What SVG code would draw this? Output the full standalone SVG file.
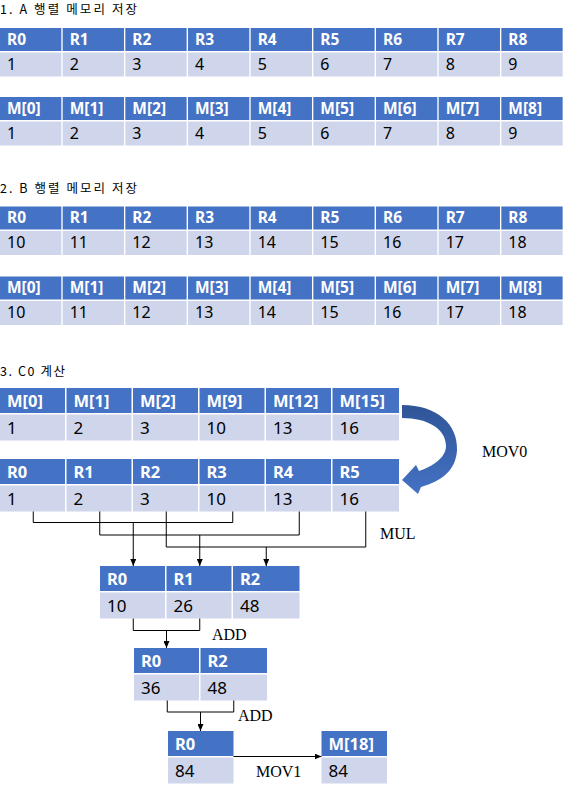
<svg xmlns="http://www.w3.org/2000/svg" width="564" height="796" viewBox="0 0 564 796">
<style>
.h{fill:#4472C4}
.d{fill:#CFD5EA}
.ht{fill:#fff;font-family:"Noto Sans","Liberation Sans",sans-serif;font-weight:bold;font-size:15.5px}
.dt{fill:#000;font-family:"Noto Sans","Liberation Sans",sans-serif;font-size:16px}
.ht3{fill:#fff;font-family:"Noto Sans","Liberation Sans",sans-serif;font-weight:bold;font-size:16.5px}
.dt3{fill:#000;font-family:"Noto Sans","Liberation Sans",sans-serif;font-size:17px}
.hd{fill:#000;font-family:"Noto Sans CJK KR","Noto Sans",sans-serif;font-size:12.5px}
.op{fill:#000;font-family:"Liberation Serif",serif;font-size:16px}
.ln{fill:none;stroke:#000;stroke-width:1}
</style>
<defs>
<marker id="ah" markerUnits="userSpaceOnUse" markerWidth="7" markerHeight="6" refX="7" refY="3" orient="auto">
<path d="M0,0 L7,3 L0,6 z" fill="#000"/>
</marker>
<linearGradient id="cg" x1="0" y1="0" x2="0" y2="1">
<stop offset="0" stop-color="#2F5597"/>
<stop offset="1" stop-color="#4472C4"/>
</linearGradient>
</defs>
<rect width="564" height="796" fill="#fff"/>

<g id="headings">
<text class="hd" x="0" y="14" textLength="137" lengthAdjust="spacing">1. A 행렬 메모리 저장</text>
<text class="hd" x="0" y="193" textLength="137" lengthAdjust="spacing">2. B 행렬 메모리 저장</text>
<text class="hd" x="0" y="376" textLength="65" lengthAdjust="spacing">3. C0 계산</text>
</g>

<g id="tableA-R">
<rect class="h" x="0" y="28" width="61.3" height="23"/><rect class="h" x="62.67" y="28" width="61.3" height="23"/><rect class="h" x="125.33" y="28" width="61.3" height="23"/><rect class="h" x="188" y="28" width="61.3" height="23"/><rect class="h" x="250.67" y="28" width="61.3" height="23"/><rect class="h" x="313.33" y="28" width="61.3" height="23"/><rect class="h" x="376" y="28" width="61.3" height="23"/><rect class="h" x="438.67" y="28" width="61.3" height="23"/><rect class="h" x="501.33" y="28" width="61.3" height="23"/>
<rect class="d" x="0" y="52.5" width="61.3" height="24"/><rect class="d" x="62.67" y="52.5" width="61.3" height="24"/><rect class="d" x="125.33" y="52.5" width="61.3" height="24"/><rect class="d" x="188" y="52.5" width="61.3" height="24"/><rect class="d" x="250.67" y="52.5" width="61.3" height="24"/><rect class="d" x="313.33" y="52.5" width="61.3" height="24"/><rect class="d" x="376" y="52.5" width="61.3" height="24"/><rect class="d" x="438.67" y="52.5" width="61.3" height="24"/><rect class="d" x="501.33" y="52.5" width="61.3" height="24"/>
<text class="ht" x="7" y="44.5">R0</text><text class="ht" x="69.67" y="44.5">R1</text><text class="ht" x="132.33" y="44.5">R2</text><text class="ht" x="195" y="44.5">R3</text><text class="ht" x="257.67" y="44.5">R4</text><text class="ht" x="320.33" y="44.5">R5</text><text class="ht" x="383" y="44.5">R6</text><text class="ht" x="445.67" y="44.5">R7</text><text class="ht" x="508.33" y="44.5">R8</text>
<text class="dt" x="7" y="69.5">1</text><text class="dt" x="69.67" y="69.5">2</text><text class="dt" x="132.33" y="69.5">3</text><text class="dt" x="195" y="69.5">4</text><text class="dt" x="257.67" y="69.5">5</text><text class="dt" x="320.33" y="69.5">6</text><text class="dt" x="383" y="69.5">7</text><text class="dt" x="445.67" y="69.5">8</text><text class="dt" x="508.33" y="69.5">9</text>
</g>

<g id="tableA-M">
<rect class="h" x="0" y="97" width="61.3" height="23"/><rect class="h" x="62.67" y="97" width="61.3" height="23"/><rect class="h" x="125.33" y="97" width="61.3" height="23"/><rect class="h" x="188" y="97" width="61.3" height="23"/><rect class="h" x="250.67" y="97" width="61.3" height="23"/><rect class="h" x="313.33" y="97" width="61.3" height="23"/><rect class="h" x="376" y="97" width="61.3" height="23"/><rect class="h" x="438.67" y="97" width="61.3" height="23"/><rect class="h" x="501.33" y="97" width="61.3" height="23"/>
<rect class="d" x="0" y="121.5" width="61.3" height="24"/><rect class="d" x="62.67" y="121.5" width="61.3" height="24"/><rect class="d" x="125.33" y="121.5" width="61.3" height="24"/><rect class="d" x="188" y="121.5" width="61.3" height="24"/><rect class="d" x="250.67" y="121.5" width="61.3" height="24"/><rect class="d" x="313.33" y="121.5" width="61.3" height="24"/><rect class="d" x="376" y="121.5" width="61.3" height="24"/><rect class="d" x="438.67" y="121.5" width="61.3" height="24"/><rect class="d" x="501.33" y="121.5" width="61.3" height="24"/>
<text class="ht" x="7" y="113.5">M[0]</text><text class="ht" x="69.67" y="113.5">M[1]</text><text class="ht" x="132.33" y="113.5">M[2]</text><text class="ht" x="195" y="113.5">M[3]</text><text class="ht" x="257.67" y="113.5">M[4]</text><text class="ht" x="320.33" y="113.5">M[5]</text><text class="ht" x="383" y="113.5">M[6]</text><text class="ht" x="445.67" y="113.5">M[7]</text><text class="ht" x="508.33" y="113.5">M[8]</text>
<text class="dt" x="7" y="138.5">1</text><text class="dt" x="69.67" y="138.5">2</text><text class="dt" x="132.33" y="138.5">3</text><text class="dt" x="195" y="138.5">4</text><text class="dt" x="257.67" y="138.5">5</text><text class="dt" x="320.33" y="138.5">6</text><text class="dt" x="383" y="138.5">7</text><text class="dt" x="445.67" y="138.5">8</text><text class="dt" x="508.33" y="138.5">9</text>
</g>

<g id="tableB-R">
<rect class="h" x="0" y="206.5" width="61.3" height="23"/><rect class="h" x="62.67" y="206.5" width="61.3" height="23"/><rect class="h" x="125.33" y="206.5" width="61.3" height="23"/><rect class="h" x="188" y="206.5" width="61.3" height="23"/><rect class="h" x="250.67" y="206.5" width="61.3" height="23"/><rect class="h" x="313.33" y="206.5" width="61.3" height="23"/><rect class="h" x="376" y="206.5" width="61.3" height="23"/><rect class="h" x="438.67" y="206.5" width="61.3" height="23"/><rect class="h" x="501.33" y="206.5" width="61.3" height="23"/>
<rect class="d" x="0" y="231" width="61.3" height="24"/><rect class="d" x="62.67" y="231" width="61.3" height="24"/><rect class="d" x="125.33" y="231" width="61.3" height="24"/><rect class="d" x="188" y="231" width="61.3" height="24"/><rect class="d" x="250.67" y="231" width="61.3" height="24"/><rect class="d" x="313.33" y="231" width="61.3" height="24"/><rect class="d" x="376" y="231" width="61.3" height="24"/><rect class="d" x="438.67" y="231" width="61.3" height="24"/><rect class="d" x="501.33" y="231" width="61.3" height="24"/>
<text class="ht" x="7" y="223">R0</text><text class="ht" x="69.67" y="223">R1</text><text class="ht" x="132.33" y="223">R2</text><text class="ht" x="195" y="223">R3</text><text class="ht" x="257.67" y="223">R4</text><text class="ht" x="320.33" y="223">R5</text><text class="ht" x="383" y="223">R6</text><text class="ht" x="445.67" y="223">R7</text><text class="ht" x="508.33" y="223">R8</text>
<text class="dt" x="7" y="248">10</text><text class="dt" x="69.67" y="248">11</text><text class="dt" x="132.33" y="248">12</text><text class="dt" x="195" y="248">13</text><text class="dt" x="257.67" y="248">14</text><text class="dt" x="320.33" y="248">15</text><text class="dt" x="383" y="248">16</text><text class="dt" x="445.67" y="248">17</text><text class="dt" x="508.33" y="248">18</text>
</g>

<g id="tableB-M">
<rect class="h" x="0" y="276.5" width="61.3" height="23"/><rect class="h" x="62.67" y="276.5" width="61.3" height="23"/><rect class="h" x="125.33" y="276.5" width="61.3" height="23"/><rect class="h" x="188" y="276.5" width="61.3" height="23"/><rect class="h" x="250.67" y="276.5" width="61.3" height="23"/><rect class="h" x="313.33" y="276.5" width="61.3" height="23"/><rect class="h" x="376" y="276.5" width="61.3" height="23"/><rect class="h" x="438.67" y="276.5" width="61.3" height="23"/><rect class="h" x="501.33" y="276.5" width="61.3" height="23"/>
<rect class="d" x="0" y="301" width="61.3" height="24"/><rect class="d" x="62.67" y="301" width="61.3" height="24"/><rect class="d" x="125.33" y="301" width="61.3" height="24"/><rect class="d" x="188" y="301" width="61.3" height="24"/><rect class="d" x="250.67" y="301" width="61.3" height="24"/><rect class="d" x="313.33" y="301" width="61.3" height="24"/><rect class="d" x="376" y="301" width="61.3" height="24"/><rect class="d" x="438.67" y="301" width="61.3" height="24"/><rect class="d" x="501.33" y="301" width="61.3" height="24"/>
<text class="ht" x="7" y="293">M[0]</text><text class="ht" x="69.67" y="293">M[1]</text><text class="ht" x="132.33" y="293">M[2]</text><text class="ht" x="195" y="293">M[3]</text><text class="ht" x="257.67" y="293">M[4]</text><text class="ht" x="320.33" y="293">M[5]</text><text class="ht" x="383" y="293">M[6]</text><text class="ht" x="445.67" y="293">M[7]</text><text class="ht" x="508.33" y="293">M[8]</text>
<text class="dt" x="7" y="318">10</text><text class="dt" x="69.67" y="318">11</text><text class="dt" x="132.33" y="318">12</text><text class="dt" x="195" y="318">13</text><text class="dt" x="257.67" y="318">14</text><text class="dt" x="320.33" y="318">15</text><text class="dt" x="383" y="318">16</text><text class="dt" x="445.67" y="318">17</text><text class="dt" x="508.33" y="318">18</text>
</g>

<g id="c0-M">
<rect class="h" x="0" y="388" width="65" height="25"/><rect class="h" x="66.5" y="388" width="65" height="25"/><rect class="h" x="133" y="388" width="65" height="25"/><rect class="h" x="199.5" y="388" width="65" height="25"/><rect class="h" x="266" y="388" width="65" height="25"/><rect class="h" x="332.5" y="388" width="66.5" height="25"/>
<rect class="d" x="0" y="414.5" width="65" height="26"/><rect class="d" x="66.5" y="414.5" width="65" height="26"/><rect class="d" x="133" y="414.5" width="65" height="26"/><rect class="d" x="199.5" y="414.5" width="65" height="26"/><rect class="d" x="266" y="414.5" width="65" height="26"/><rect class="d" x="332.5" y="414.5" width="66.5" height="26"/>
<text class="ht3" x="7" y="406.5">M[0]</text><text class="ht3" x="73.5" y="406.5">M[1]</text><text class="ht3" x="140" y="406.5">M[2]</text><text class="ht3" x="206.5" y="406.5">M[9]</text><text class="ht3" x="273" y="406.5">M[12]</text><text class="ht3" x="339.5" y="406.5">M[15]</text>
<text class="dt3" x="7" y="433.5">1</text><text class="dt3" x="73.5" y="433.5">2</text><text class="dt3" x="140" y="433.5">3</text><text class="dt3" x="206.5" y="433.5">10</text><text class="dt3" x="273" y="433.5">13</text><text class="dt3" x="339.5" y="433.5">16</text>
</g>

<g id="c0-R">
<rect class="h" x="0" y="459" width="65" height="25"/><rect class="h" x="66.5" y="459" width="65" height="25"/><rect class="h" x="133" y="459" width="65" height="25"/><rect class="h" x="199.5" y="459" width="65" height="25"/><rect class="h" x="266" y="459" width="65" height="25"/><rect class="h" x="332.5" y="459" width="66.5" height="25"/>
<rect class="d" x="0" y="485.5" width="65" height="26"/><rect class="d" x="66.5" y="485.5" width="65" height="26"/><rect class="d" x="133" y="485.5" width="65" height="26"/><rect class="d" x="199.5" y="485.5" width="65" height="26"/><rect class="d" x="266" y="485.5" width="65" height="26"/><rect class="d" x="332.5" y="485.5" width="66.5" height="26"/>
<text class="ht3" x="7" y="477.5">R0</text><text class="ht3" x="73.5" y="477.5">R1</text><text class="ht3" x="140" y="477.5">R2</text><text class="ht3" x="206.5" y="477.5">R3</text><text class="ht3" x="273" y="477.5">R4</text><text class="ht3" x="339.5" y="477.5">R5</text>
<text class="dt3" x="7" y="504.5">1</text><text class="dt3" x="73.5" y="504.5">2</text><text class="dt3" x="140" y="504.5">3</text><text class="dt3" x="206.5" y="504.5">10</text><text class="dt3" x="273" y="504.5">13</text><text class="dt3" x="339.5" y="504.5">16</text>
</g>

<g id="mul-result">
<rect class="h" x="100" y="566" width="65" height="25"/><rect class="h" x="166.5" y="566" width="65" height="25"/><rect class="h" x="233" y="566" width="66.5" height="25"/>
<rect class="d" x="100" y="592.5" width="65" height="26"/><rect class="d" x="166.5" y="592.5" width="65" height="26"/><rect class="d" x="233" y="592.5" width="66.5" height="26"/>
<text class="ht3" x="107" y="584.5">R0</text><text class="ht3" x="173.5" y="584.5">R1</text><text class="ht3" x="240" y="584.5">R2</text>
<text class="dt3" x="107" y="611.5">10</text><text class="dt3" x="173.5" y="611.5">26</text><text class="dt3" x="240" y="611.5">48</text>
</g>

<g id="add1-result">
<rect class="h" x="134" y="648" width="65" height="25"/><rect class="h" x="200.5" y="648" width="66.5" height="25"/>
<rect class="d" x="134" y="674.5" width="65" height="26"/><rect class="d" x="200.5" y="674.5" width="66.5" height="26"/>
<text class="ht3" x="141" y="666.5">R0</text><text class="ht3" x="207.5" y="666.5">R2</text>
<text class="dt3" x="141" y="693.5">36</text><text class="dt3" x="207.5" y="693.5">48</text>
</g>

<g id="add2-result">
<rect class="h" x="168" y="731" width="65.5" height="25"/>
<rect class="d" x="168" y="757.5" width="65.5" height="26"/>
<text class="ht3" x="175" y="749.5">R0</text>
<text class="dt3" x="175" y="776.5">84</text>
</g>

<g id="m18">
<rect class="h" x="321.5" y="731" width="65.5" height="25"/>
<rect class="d" x="321.5" y="757.5" width="65.5" height="26"/>
<text class="ht3" x="328.5" y="749.5">M[18]</text>
<text class="dt3" x="328.5" y="776.5">84</text>
</g>

<g id="connectors">
<path d="M402,405 C438,405 458,425 457,450 C456,470 442,481 421,487 L418,494 L402,480 L416,465 L419,471 C434,466 446,457 446,446 C446,429 428,418 402,418 Z" fill="url(#cg)"/>
<path class="ln" d="M33.25,511.5 V522.5 H232.75 V511.5"/>
<path class="ln" d="M99.75,511.5 V535 H299.25 V511.5"/>
<path class="ln" d="M166.25,511.5 V547 H365.75 V511.5"/>
<line class="ln" x1="133.25" y1="522.5" x2="133.25" y2="566" marker-end="url(#ah)"/>
<line class="ln" x1="199.75" y1="535" x2="199.75" y2="566" marker-end="url(#ah)"/>
<line class="ln" x1="266.25" y1="547" x2="266.25" y2="566" marker-end="url(#ah)"/>
<path class="ln" d="M133.25,618.5 V630.5 H199.75 V618.5"/>
<line class="ln" x1="166.5" y1="630.5" x2="166.5" y2="648" marker-end="url(#ah)"/>
<path class="ln" d="M167.25,700.5 V712 H233.75 V700.5"/>
<line class="ln" x1="200.5" y1="712" x2="200.5" y2="731" marker-end="url(#ah)"/>
<line class="ln" x1="233.5" y1="756.5" x2="321.5" y2="756.5" marker-end="url(#ah)"/>
</g>

<g id="labels">
<text class="op" x="482" y="456.5">MOV0</text>
<text class="op" x="380" y="539">MUL</text>
<text class="op" x="212" y="640">ADD</text>
<text class="op" x="238" y="721">ADD</text>
<text class="op" x="256" y="777">MOV1</text>
</g>
</svg>
